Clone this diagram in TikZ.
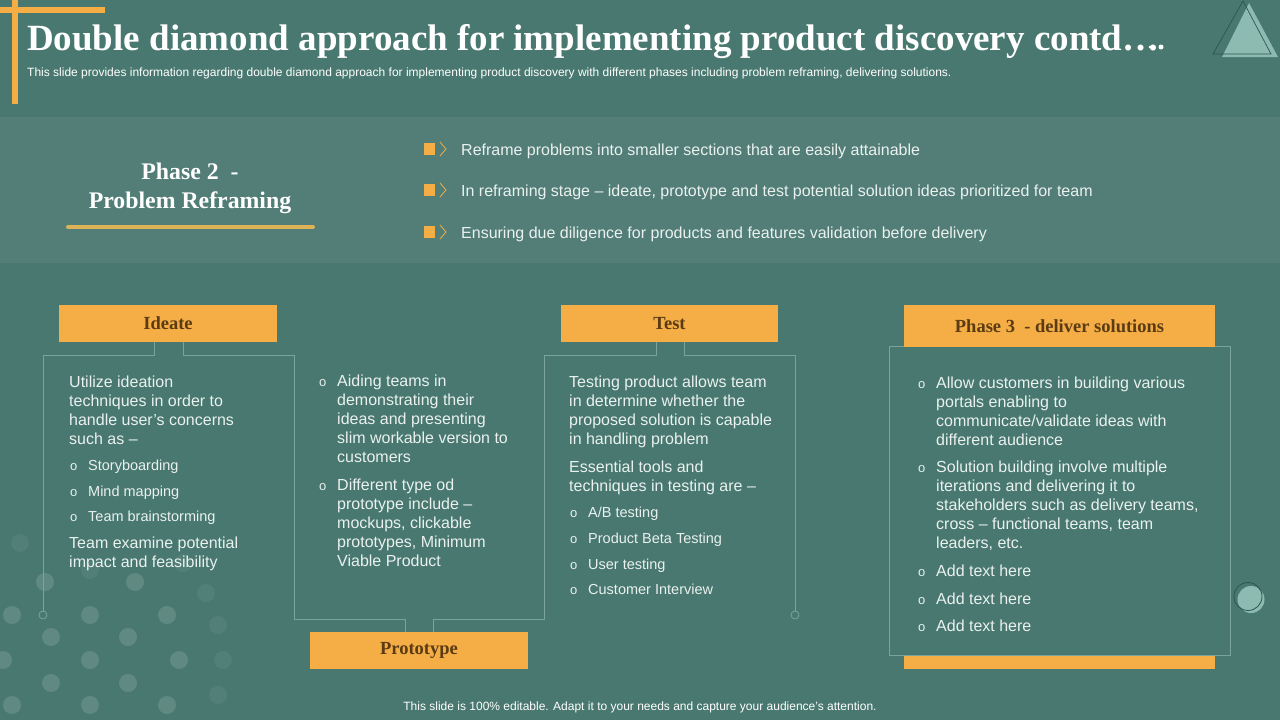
\documentclass[tikz,border=0pt]{standalone}
\usepackage{fontspec}
\setmainfont{Liberation Sans}
\newfontfamily\tnr{Liberation Serif}
\definecolor{bg}{HTML}{48786F}
\definecolor{band}{HTML}{527E77}
\definecolor{org}{HTML}{F5AE45}
\definecolor{brn}{HTML}{5A3B14}
\definecolor{frm}{HTML}{7AA39B}
\definecolor{txt}{HTML}{EAF1EF}
\definecolor{gold}{HTML}{DDB257}
\definecolor{lt}{HTML}{8DBBB2}
\definecolor{dk}{HTML}{2E554E}
\newcommand{\ml}[1]{\begin{tabular}[t]{@{}l@{}}#1\end{tabular}}
\newcommand{\bo}{\makebox[18pt][l]{\fontsize{13}{13}\selectfont o}}
\tikzset{
  body/.style={font=\fontsize{16}{19}\selectfont, text=txt, inner sep=0pt, anchor=base west},
  subb/.style={body, font=\fontsize{14.5}{19}\selectfont},
  lab/.style={fill=org, inner sep=0pt, font=\tnr\bfseries\fontsize{18.5}{20}\selectfont, text=brn},
  frame/.style={draw=frm, line width=0.8pt},
  dot/.style={fill=white, fill opacity=0.13},
  fdot/.style={fill=white, fill opacity=0.06},
  chev/.style={draw=org, line width=0.8pt}
}
\begin{document}
\begin{tikzpicture}[x=1pt,y=-1pt]
\useasboundingbox (0,0) rectangle (1280,720);
\fill[bg] (0,0) rectangle (1280,720);
% band
\fill[band] (0,117) rectangle (1280,263);
% top-left cross
\fill[org] (12,0) rectangle (18,104);
\fill[org] (0,7) rectangle (105,13);
% top-right triangles
\fill[lt] (1222,57) -- (1278,57) -- (1249,3) -- cycle;
\draw[dk, line width=0.7pt] (1213,54) -- (1271,54) -- (1243,1) -- cycle;
\fill[white] (1161,47) circle (2.5);
\fill[white] (1150,47) circle (1.5);
% bottom-left dots
\foreach \p in {(12,615),(51,637),(90,615),(90,660),(51,683),(12,705),(90,705),(128,637),(128,683),(167,615),(167,705),(179,660),(3,660),(45,582),(135,582)}
  \fill[dot] \p circle (9);
\foreach \p in {(90,570),(20,543),(218,625),(206,593),(223,660),(218,695),(183,563)}
  \fill[fdot] \p circle (9);
% right circle
\fill[lt] (1251,599.5) circle (13.5);
\draw[dk, line width=0.8pt] (1248,596.5) circle (14);

% title
\node[anchor=base west, inner sep=0pt, text=white, font=\tnr\bfseries\fontsize{37}{40}\selectfont] (title) at (27,50) {Double diamond approach for implementing product discovery contd…};
\node[anchor=base west, inner sep=0pt, text=white, font=\fontsize{12}{13}\selectfont] (subtitle) at (27,76) {This slide provides information regarding double diamond approach for implementing product discovery with different phases including problem reframing, delivering solutions.};

% phase 2
\node[anchor=base, inner sep=0pt, text=white, font=\tnr\bfseries\fontsize{23.8}{29}\selectfont] (ph2a) at (190,179) {Phase 2 \ -};
\node[anchor=base, inner sep=0pt, text=white, font=\tnr\bfseries\fontsize{23.8}{29}\selectfont] (ph2b) at (190,208) {Problem Reframing};
\draw[gold, line width=4pt, line cap=round] (68,227) -- (313,227);

% band bullets
\foreach \y/\n in {149/1,190/2,232/3}{
  \fill[org] (423.5,\y-6) rectangle (434.5,\y+6);
  \draw[chev] (440,\y-7) -- (446,\y) -- (440,\y+7);
}
\node[body] (b1) at (461,155) {Reframe problems into smaller sections that are easily attainable};
\node[body] (b2) at (461,196) {In reframing stage – ideate, prototype and test potential solution ideas prioritized for team};
\node[body] (b3) at (461,238) {Ensuring due diligence for products and features validation before delivery};

% orange label boxes
\node[lab, minimum width=218pt, minimum height=37pt] (ideate) at (168,323.5) {Ideate};
\node[lab, minimum width=217pt, minimum height=37pt] (test) at (669.5,323.5) {Test};
\node[lab, minimum width=218pt, minimum height=37pt] (proto) at (419,650.5) {Prototype};

% zigzag frame
\draw[frame] (43,611) -- (43,355.5) -- (154,355.5) -- ([xshift=-14pt]ideate.south);
\draw[frame] ([xshift=15pt]ideate.south) -- (183,355.5) -- (294,355.5) -- (294,619) -- (405,619) -- ([xshift=-14pt]proto.north);
\draw[frame] ([xshift=14pt]proto.north) -- (433,619) -- (544,619) -- (544,355.5) -- (656,355.5) -- ([xshift=-13.5pt]test.south);
\draw[frame] ([xshift=14.5pt]test.south) -- (684,355.5) -- (795,355.5) -- (795,611);
\draw[frame] (43,615) circle (4);
\draw[frame] (795,615) circle (4);

% phase 3 frame
\draw[frame] (889,346.5) rectangle (1230,655.5);
\node[lab, minimum width=311pt, minimum height=42pt] (ph3) at (1059.5,326) {Phase 3 \ - deliver solutions};
\fill[org] (904,656) rectangle (1215,669);

% Ideate column
\node[body] (i1) at (69,387) {\ml{Utilize ideation\\techniques in order to\\handle user’s concerns\\such as –}};
\node[subb] (i2) at (70,470) {\bo Storyboarding};
\node[subb] (i3) at (70,496) {\bo Mind mapping};
\node[subb] (i4) at (70,521) {\bo Team brainstorming};
\node[body] (i5) at (69,548) {\ml{Team examine potential\\impact and feasibility}};

% Prototype column
\node[body] (p1) at (319,386.5) {\bo\ml{Aiding teams in\\demonstrating their\\ideas and presenting\\slim workable version to\\customers}};
\node[body] (p2) at (319,490.5) {\bo\ml{Different type od\\prototype include –\\mockups, clickable\\prototypes, Minimum\\Viable Product}};

% Test column
\node[body] (t1) at (569,387.5) {\ml{Testing product allows team\\in determine whether the\\proposed solution is capable\\in handling problem}};
\node[body] (t2) at (569,472) {\ml{Essential tools and\\techniques in testing are –}};
\node[subb] (t3) at (570,517) {\bo A/B testing};
\node[subb] (t4) at (570,543) {\bo Product Beta Testing};
\node[subb] (t5) at (570,569) {\bo User testing};
\node[subb] (t6) at (570,594) {\bo Customer Interview};

% Phase 3 column
\node[body] (d1) at (918,388) {\bo\ml{Allow customers in building various\\portals enabling to\\communicate/validate ideas with\\different audience}};
\node[body] (d2) at (918,472) {\bo\ml{Solution building involve multiple\\iterations and delivering it to\\stakeholders such as delivery teams,\\cross – functional teams, team\\leaders, etc.}};
\node[body] (d3) at (918,576) {\bo Add text here};
\node[body] (d4) at (918,604) {\bo Add text here};
\node[body] (d5) at (918,631) {\bo Add text here};

% footer
\node[anchor=base, inner sep=0pt, text=white, font=\fontsize{12}{13}\selectfont] (footer) at (640,710) {This slide is 100\% editable. Adapt it to your needs and capture your audience’s attention.};
\end{tikzpicture}
\end{document}
